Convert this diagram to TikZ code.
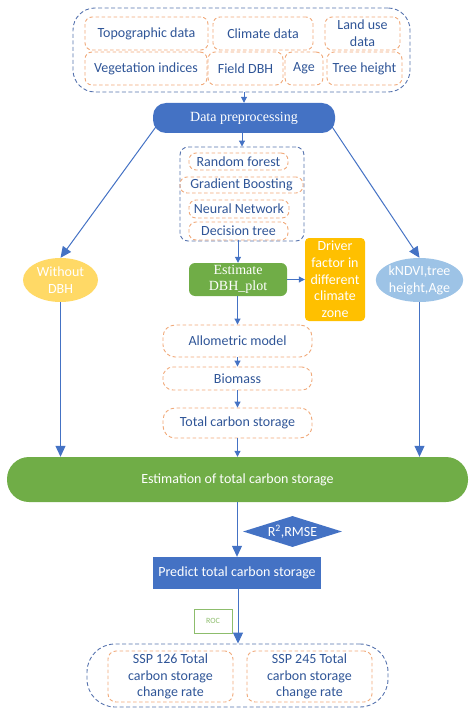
\documentclass[tikz,border=0pt]{standalone}
\usepackage{fontspec}
\setmainfont{Carlito}
\newfontfamily\serifx{Liberation Serif}
\usetikzlibrary{shapes.geometric,arrows.meta,calc}
\definecolor{bluefill}{HTML}{4472C4}
\definecolor{greenfill}{HTML}{70AD47}
\definecolor{yellowfill}{HTML}{FFD966}
\definecolor{orangefill}{HTML}{FFC000}
\definecolor{lightbluefill}{HTML}{9DC3E6}
\definecolor{dorange}{HTML}{F0A878}
\definecolor{dblue}{HTML}{5673AE}
\definecolor{tblue}{HTML}{2F5597}
\newcommand{\mainfs}{\fontsize{14}{16.7}\selectfont}
\tikzset{
  obox/.style={draw=dorange, dash pattern=on 3.5pt off 2.5pt, line width=0.9pt,
    rounded corners=7pt, inner sep=0pt, text=tblue, font=\mainfs, align=center},
  bouter/.style={draw=dblue, dash pattern=on 4pt off 2.5pt, line width=0.9pt, inner sep=0pt},
  arr/.style={draw=bluefill, line width=1pt, -{Triangle[width=6pt,length=6pt]}},
  bigarr/.style={draw=bluefill, line width=1pt, -{Triangle[width=10pt,length=11pt]}},
  whitetext/.style={text=white, font=\mainfs, align=center, inner sep=0pt}
}
\begin{document}
\begin{tikzpicture}[x=1pt,y=-1pt]
\useasboundingbox (0,0) rectangle (474,719);
% top group
\node[bouter, rounded corners=22pt, minimum width=337pt, minimum height=84pt] (topbox) at (241.5,50) {};
\node[obox, minimum width=123pt, minimum height=33pt] (topo) at (146.5,33.5) {Topographic data};
\node[obox, minimum width=100pt, minimum height=33pt] (clim) at (263,33.5) {Climate data};
\node[obox, minimum width=75pt, minimum height=33pt] (land) at (362.5,33.5) {Land use\\data};
\node[obox, minimum width=122pt, minimum height=33pt] (veg) at (146,68.5) {Vegetation indices};
\node[obox, minimum width=75pt, minimum height=33pt] (field) at (245.5,68.5) {Field DBH};
\node[obox, minimum width=38pt, minimum height=33pt] (age) at (304,68.5) {Age};
\node[obox, minimum width=75pt, minimum height=33pt] (th) at (364.5,68.5) {Tree height};
% preprocessing
\node[fill=bluefill, rounded corners=13pt, minimum width=182pt, minimum height=30pt, inner sep=0pt,
  text=white, font=\serifx\fontsize{14}{16}\selectfont] (prep) at (244,118) {Data preprocessing};
% ML group
\node[bouter, rounded corners=8pt, minimum width=124pt, minimum height=94pt] (ml) at (242,194) {};
\node[obox, minimum width=99pt, minimum height=17pt] (rf) at (238.5,161.5) {Random forest};
\node[obox, minimum width=123pt, minimum height=16pt] (gb) at (241.5,185) {Gradient Boosting};
\node[obox, minimum width=100pt, minimum height=18pt] (nn) at (239,209) {Neural Network};
\node[obox, minimum width=99pt, minimum height=18pt] (dt) at (238.5,231) {Decision tree};
% side ellipses
\node[ellipse, fill=yellowfill, minimum width=75pt, minimum height=44pt, whitetext] (wo) at (60.5,280) {Without\\DBH};
\node[ellipse, fill=lightbluefill, minimum width=75pt, minimum height=44pt, whitetext] (kn) at (419.5,280) {kNDVI,tree\\height,Age};
% estimate
\node[fill=greenfill, rounded corners=6pt, minimum width=98pt, minimum height=33pt, inner sep=0pt, align=center,
  text=white, font=\serifx\fontsize{14}{16}\selectfont] (est) at (238,279.5) {Estimate\\DBH\_plot};
\node[fill=orangefill, rounded corners=4pt, minimum width=60pt, minimum height=83pt, whitetext] (drv) at (335,279.5) {Driver\\factor in\\different\\climate\\zone};
% chain
\node[obox, rounded corners=12pt, minimum width=149pt, minimum height=32pt] (allo) at (237.5,341) {Allometric model};
\node[obox, rounded corners=10pt, minimum width=149pt, minimum height=23pt] (bio) at (237.5,378.5) {Biomass};
\node[obox, rounded corners=12pt, minimum width=149pt, minimum height=30pt] (tcs) at (237.5,423) {Total carbon storage};
% estimation
\node[fill=greenfill, rounded corners=22pt, minimum width=461pt, minimum height=45pt, whitetext] (esti) at (237.5,479.5) {Estimation of total carbon storage};
\node[diamond, aspect=3.2, fill=bluefill, minimum width=99pt, minimum height=31pt, whitetext] (r2) at (292.5,531.5) {R\textsuperscript{2},RMSE};
\node[fill=bluefill, minimum width=168pt, minimum height=32pt, whitetext] (pred) at (237,573) {Predict total carbon storage};
\node[draw=greenfill!80, line width=0.6pt, minimum width=38pt, minimum height=24pt, inner sep=0pt, text=greenfill!80,
  font=\fontsize{8}{9}\selectfont] (roc) at (213,621) {ROC};
% bottom group
\node[bouter, rounded corners=28pt, minimum width=301pt, minimum height=63pt] (botbox) at (237.5,675.5) {};
\node[obox, rounded corners=8pt, minimum width=125pt, minimum height=51pt] (ssp1) at (170.5,676.5) {SSP 126 Total\\carbon storage\\change rate};
\node[obox, rounded corners=8pt, minimum width=125pt, minimum height=51pt] (ssp2) at (309.5,676.5) {SSP 245 Total\\carbon storage\\change rate};
% connectors
\draw[arr] (topbox.south -| prep.north) -- (prep.north);
\draw[arr] (prep.south -| ml.north) -- (ml.north);
\draw[bigarr] ($(prep.west)+(3,9)$) -- (wo.north);
\draw[bigarr] ($(prep.east)+(-3,9)$) -- (kn.north);
\draw[arr] (dt.south -| est.north) -- (est.north);
\draw[arr] (est.east) -- (drv.west |- est.east);
\draw[arr] (est.south -| allo.north) -- (allo.north);
\draw[arr] (allo.south) -- (bio.north);
\draw[arr] (bio.south) -- (tcs.north);
\draw[arr] (tcs.south) -- (esti.north -| tcs.south);
\draw[bigarr] (wo.south) -- (esti.north -| wo.south);
\draw[bigarr] (kn.south) -- (esti.north -| kn.south);
\draw[bigarr] (esti.south -| pred.north) -- (pred.north);
\draw[bigarr] ($(pred.south)+(1,0)$) -- (botbox.north -| {$(pred.south)+(1,0)$});
\end{tikzpicture}
\end{document}
